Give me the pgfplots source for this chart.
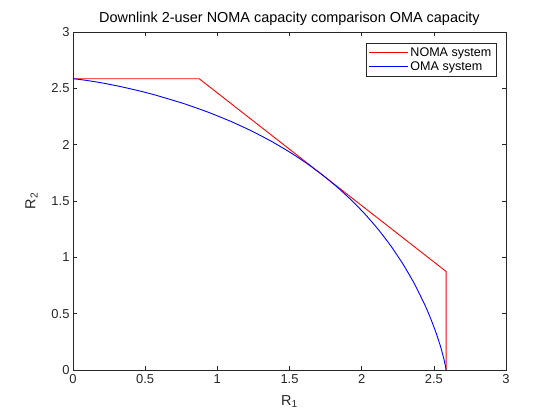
\documentclass[border=0pt]{standalone}
\usepackage{pgfplots}
\pgfplotsset{compat=1.18}
\usepackage{fontspec}
\setmainfont{Liberation Sans}
\definecolor{axgray}{rgb}{0.15,0.15,0.15}
\begin{document}
\begin{tikzpicture}[x=1bp,y=1bp]
\useasboundingbox (-73bp,-50bp) rectangle (487bp,370bp);
\begin{axis}[
    at={(0,0)}, anchor=south west,
    scale only axis,
    width=433bp, height=338bp,
    xmin=0, xmax=3, ymin=0, ymax=3,
    xtick={0,0.5,...,3}, ytick={0,0.5,...,3},
    xticklabels={0,0.5,1,1.5,2,2.5,3},
    yticklabels={0,0.5,1,1.5,2,2.5,3},
    tick align=inside,
    major tick length=4bp,
    axis line style={axgray, line width=0.6bp},
    every tick/.style={axgray, line width=0.6bp},
    tick label style={font=\fontsize{13}{15}\selectfont, text=axgray},
    xticklabel style={yshift=-1bp},
    label style={font=\fontsize{14.5}{17}\selectfont, text=axgray},
    xlabel={R\textsubscript{1}},
    ylabel={R\textsubscript{2}},
    xlabel style={yshift=-5bp},
    ylabel style={yshift=7bp},
    title={Downlink 2-user NOMA capacity comparison OMA capacity},
    title style={font=\fontsize{14.5}{17}\selectfont, yshift=-3bp},
    legend style={at={(0.977,0.968)}, anchor=north east, draw=axgray,
        font=\fontsize{12.6}{14}\selectfont, inner sep=2.5bp, row sep=0bp,
        cells={anchor=west}},
    legend cell align=left,
    legend image code/.code={\draw[#1] (0bp,0bp) -- (39bp,0bp);},
]
\addplot[draw=red, line width=0.9bp] coordinates {
    (0,2.5850) (0.8745,2.5850) (2.5850,0.8745) (2.5850,0)
};
\addlegendentry{NOMA system}
\addplot[draw=blue, line width=0.9bp, smooth, tension=0.3] coordinates {
    (0,2.5850) (0.0123,2.5835) (0.0498,2.5780) (0.0897,2.5711)
    (0.1594,2.5571) (0.2217,2.5432) (0.3329,2.5146) (0.4560,2.4783)
    (0.5672,2.4416) (0.7652,2.3655) (0.9401,2.2864) (1.0981,2.2040)
    (1.2429,2.1180) (1.3770,2.0279) (1.5020,1.9335) (1.6192,1.8342)
    (1.7297,1.7297)
    (1.8342,1.6192) (1.9335,1.5020) (2.0279,1.3770) (2.1180,1.2429)
    (2.2040,1.0981) (2.2864,0.9401) (2.3655,0.7652) (2.4416,0.5672)
    (2.4783,0.4560) (2.5146,0.3329) (2.5432,0.2217) (2.5571,0.1594)
    (2.5711,0.0897) (2.5780,0.0498) (2.5835,0.0123) (2.5850,0)
};
\addlegendentry{OMA system}
\end{axis}
\end{tikzpicture}
\end{document}
